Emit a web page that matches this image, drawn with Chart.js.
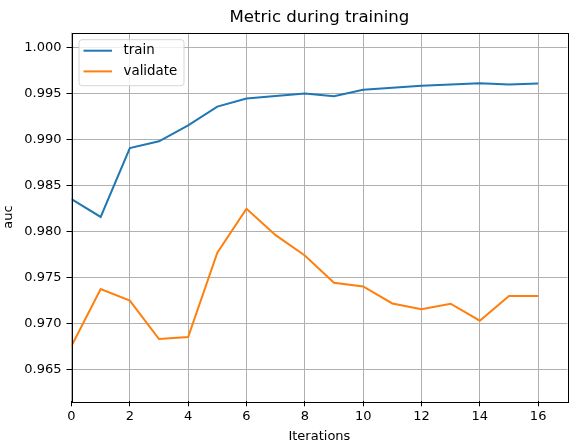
<!DOCTYPE html>
<html>
<head>
<meta charset="utf-8">
<script src="https://cdn.jsdelivr.net/npm/chart.js@4"></script>
<style>
html,body{margin:0;padding:0;background:#fff;}
#wrap{width:586px;height:448px;position:relative;}
</style>
</head>
<body>
<div id="wrap"><canvas id="c" width="586" height="448"></canvas></div>
<script>
const iterations = [0,1,2,3,4,5,6,7,8,9,10,11,12,13,14,15,16];
const trainAuc = [0.98353,0.98158,0.98908,0.98981,0.99155,0.99359,0.99446,0.99475,0.99500,0.99472,0.99543,0.99565,0.99587,0.99598,0.99612,0.99598,0.99609];
const validateAuc = [0.96753,0.97373,0.97247,0.96829,0.96851,0.97768,0.98247,0.97960,0.97739,0.97442,0.97402,0.97217,0.97155,0.97214,0.97029,0.97297,0.97297];
const xTicks = [0,2,4,6,8,10,12,14,16];
const yTicks = [0.965,0.970,0.975,0.980,0.985,0.990,0.995,1.000];
const seriesNames = ['train','validate'];
const seriesColors = ['#1f77b4','#ff7f0e'];
const chartTitle = 'Metric during training';

const FONT = 'DejaVu Sans';

const frameAndLegend = {
  id: 'frameAndLegend',
  afterDraw(chart) {
    const ctx = chart.ctx;
    const a = chart.chartArea;
    ctx.save();
    // title centred over the plot area
    ctx.fillStyle = '#000';
    ctx.font = '16.6px "' + FONT + '"';
    ctx.textAlign = 'center';
    ctx.textBaseline = 'middle';
    ctx.fillText(chartTitle, (a.left + a.right) / 2, 18);
    // spines
    ctx.strokeStyle = '#000';
    ctx.lineWidth = 1;
    ctx.strokeRect(Math.round(a.left) + 0.5, Math.round(a.top) + 0.5, Math.round(a.right - a.left) , Math.round(a.bottom - a.top));
    // legend
    const lx = a.left + 7.5, ly = a.top + 7, lw = 105, lh = 46, r = 3;
    ctx.beginPath();
    ctx.moveTo(lx + r, ly);
    ctx.lineTo(lx + lw - r, ly);
    ctx.arcTo(lx + lw, ly, lx + lw, ly + r, r);
    ctx.lineTo(lx + lw, ly + lh - r);
    ctx.arcTo(lx + lw, ly + lh, lx + lw - r, ly + lh, r);
    ctx.lineTo(lx + r, ly + lh);
    ctx.arcTo(lx, ly + lh, lx, ly + lh - r, r);
    ctx.lineTo(lx, ly + r);
    ctx.arcTo(lx, ly, lx + r, ly, r);
    ctx.closePath();
    ctx.fillStyle = 'rgba(255,255,255,0.8)';
    ctx.fill();
    ctx.strokeStyle = '#d6d6d6';
    ctx.lineWidth = 1;
    ctx.stroke();
    ctx.font = '13.4px "' + FONT + '"';
    ctx.textBaseline = 'middle';
    ctx.textAlign = 'left';
    chart.data.datasets.forEach((ds, i) => {
      const yy = ly + 11 + i * 20.7;
      ctx.strokeStyle = ds.borderColor;
      ctx.lineWidth = 2;
      ctx.beginPath();
      ctx.moveTo(lx + 4.5, yy);
      ctx.lineTo(lx + 33, yy);
      ctx.stroke();
      ctx.fillStyle = '#000';
      ctx.fillText(ds.label, lx + 44.5, yy);
    });
    ctx.restore();
  }
};

new Chart(document.getElementById('c'), {
  type: 'line',
  data: {
    datasets: [
      { label: seriesNames[0], data: iterations.map((x, i) => ({x: x, y: trainAuc[i]})), borderColor: seriesColors[0], backgroundColor: seriesColors[0], borderWidth: 2, pointRadius: 0, tension: 0, fill: false },
      { label: seriesNames[1], data: iterations.map((x, i) => ({x: x, y: validateAuc[i]})), borderColor: seriesColors[1], backgroundColor: seriesColors[1], borderWidth: 2, pointRadius: 0, tension: 0, fill: false }
    ]
  },
  options: {
    responsive: false,
    animation: false,
    devicePixelRatio: 1,
    layout: { padding: { left: 0, right: 18.7, top: 32.7, bottom: 0 } },
    plugins: {
      legend: { display: false },
      tooltip: { enabled: false },
      title: { display: false }
    },
    scales: {
      x: {
        type: 'linear',
        min: 0, max: 17,
        afterBuildTicks(s) { s.ticks = xTicks.map(v => ({value: v})); },
        afterFit(s) { s.height = 46.7; },
        ticks: { color: '#000', font: { family: FONT, size: 13 }, padding: 3, maxRotation: 0, callback: v => String(v) },
        grid: { color: '#b0b0b0', lineWidth: 1, tickColor: '#000', tickLength: 5, drawTicks: true },
        border: { display: false },
        title: { display: true, text: 'Iterations', color: '#000', font: { family: FONT, size: 13 }, padding: { top: 0, bottom: 4 } }
      },
      y: {
        type: 'linear',
        min: 0.96152, max: 1.00163,
        afterBuildTicks(s) { s.ticks = yTicks.map(v => ({value: v})); },
        afterFit(s) { s.width = 71.5; },
        ticks: { color: '#000', font: { family: FONT, size: 13 }, padding: 5, callback: v => v.toFixed(3) },
        grid: { color: '#b0b0b0', lineWidth: 1, tickColor: '#000', tickLength: 5, drawTicks: true },
        border: { display: false },
        title: { display: true, text: 'auc', color: '#000', font: { family: FONT, size: 13 }, padding: { top: 1, bottom: 0 } }
      }
    }
  },
  plugins: [frameAndLegend]
});
</script>
</body>
</html>
